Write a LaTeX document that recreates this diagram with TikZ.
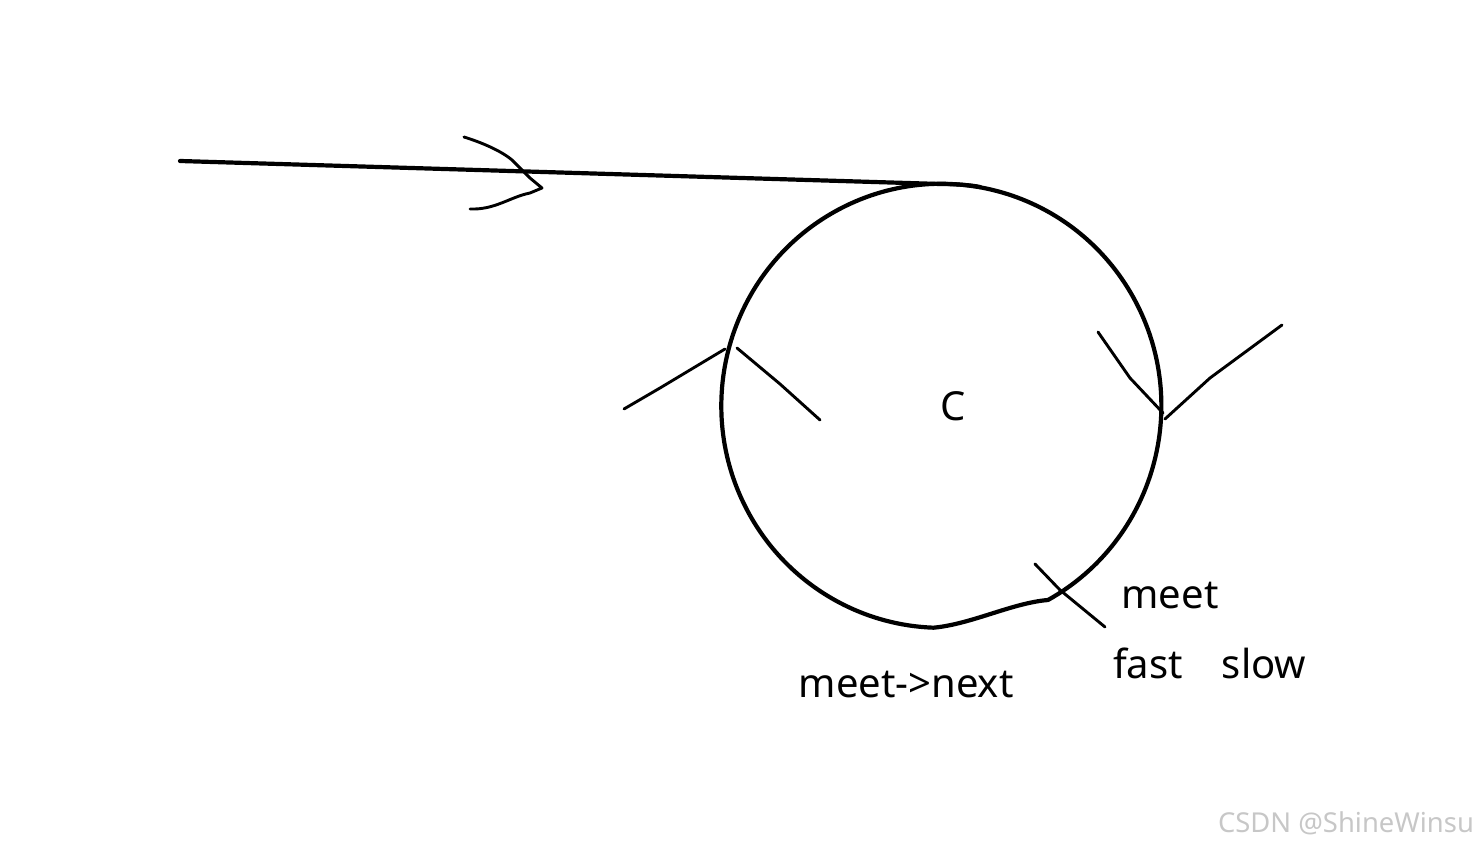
\documentclass[tikz,border=0pt]{standalone}
\usepackage{fontspec}
\setmainfont{Noto Sans}
\begin{document}
\begin{tikzpicture}[x=0.5pt,y=-0.5pt,
  stroke/.style={line width=1.45pt,line cap=round,line join=round},
  thick stroke/.style={line width=2.1pt,line cap=round,line join=round},
  lbl/.style={font=\fontsize{20}{23}\selectfont,inner sep=0pt}]
\useasboundingbox (0,0) rectangle (1479,849);
% circle with hand wiggle at bottom
\draw[thick stroke] (1048,600) arc[start angle=61,end angle=-268,x radius=220,y radius=222]
  .. controls (972,624) and (1012,603) .. (1048,600);
% tangent line
\draw[thick stroke] (180,161) -- (940,184) .. controls (955,184) and (970,185) .. (980,187);
% arrow head
\draw[stroke] (464,137) .. controls (480,142) and (500,150) .. (512,160) -- (530,178) -- (542,188) -- (530,193) .. controls (510,197) and (495,210) .. (470,209);
% left marks
\draw[stroke] (624,409) -- (660,388) -- (725,349);
\draw[stroke] (737,348) -- (780,384) -- (820,420);
% right marks
\draw[stroke] (1098,332) -- (1130,378) -- (1163,413);
\draw[stroke] (1165,419) -- (1210,378) -- (1282,325);
% meet mark
\draw[stroke] (1035,564) -- (1060,590) -- (1105,627);
% labels
\node[lbl] (c) at (953,406) {C};
\node[lbl] (meet) at (1170,596) {meet};
\node[lbl] (fast) at (1148,663) {fast};
\node[lbl] (slow) at (1264,664) {slow};
\node[lbl] (next) at (906,685) {meet->next};
\node[font=\fontsize{13.7}{16}\selectfont,text=black!22,inner sep=0pt] (wm) at (1346,823) {CSDN @ShineWinsu};
\end{tikzpicture}
\end{document}
